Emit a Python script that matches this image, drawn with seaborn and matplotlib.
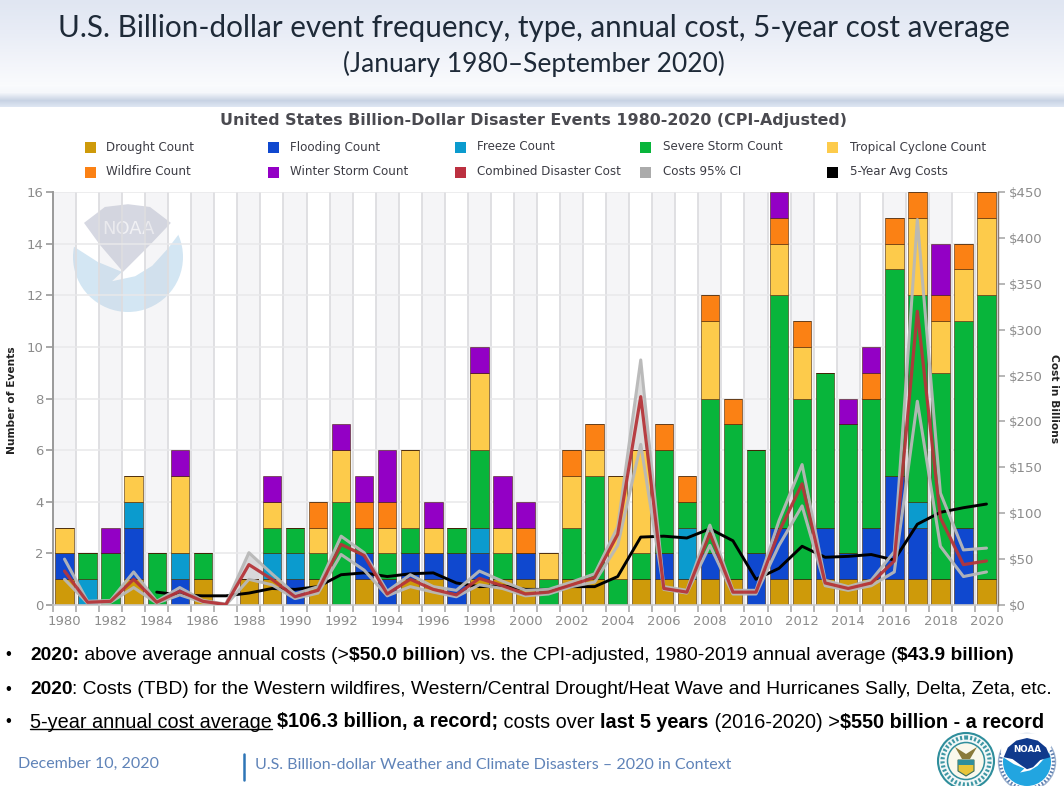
import numpy as np
import pandas as pd
import matplotlib
matplotlib.use("Agg")
import matplotlib.pyplot as plt
from matplotlib.patches import Circle, Polygon, Rectangle
import seaborn as sns

sns.set_theme(style="white")

# ---- data -------------------------------------------------------------
years = list(range(1980, 2021))
drought = [1,0,0,1,0,0,1,0,1,1,0,1,0,1,0,1,1,0,1,1,1,0,1,1,0,1,1,1,1,1,0,1,1,1,1,1,1,1,1,0,1]
flooding = [1,0,0,2,0,1,0,0,0,0,1,0,0,1,1,1,1,2,1,0,1,0,0,0,0,0,1,0,1,0,2,2,0,2,1,2,4,2,0,3,0]
freeze = [0,1,0,1,0,1,0,0,0,1,1,0,0,0,0,0,0,0,1,0,0,0,0,0,0,0,0,2,0,0,0,0,0,0,0,0,0,1,0,0,0]
severe_storm = [0,1,2,0,2,0,1,0,0,1,1,1,4,1,1,1,0,1,3,1,0,1,2,4,1,1,4,1,6,6,4,9,7,6,5,5,8,8,8,8,11]
tropical_cyclone = [1,0,0,1,0,3,0,0,0,1,0,1,2,0,1,3,1,0,3,1,0,1,2,1,4,4,0,0,3,0,0,2,2,0,0,0,1,3,2,2,3]
wildfire = [0,0,0,0,0,0,0,0,0,0,0,1,0,1,1,0,0,0,0,0,1,0,1,1,0,0,1,1,1,1,0,1,1,0,0,1,1,1,1,1,1]
winter_storm = [0,0,1,0,0,1,0,0,0,1,0,0,1,1,2,0,1,0,1,2,1,0,0,0,0,0,0,0,0,0,0,1,0,0,1,1,0,0,2,0,0]

combined_cost = [37,3,4,28,3,15,4,0.5,44,28,9,16,66,54,12,28,17,11,29,21,12,14,22,30,77,227,
                 18,14,78,14,14,80,132,24,18,24,48,320,95,44,48]
ci_upper = [50,4,5,36,4,19,5,1,57,34,12,20,75,57,15,33,20,16,37,26,16,17,25,34,85,267,
            20,16,87,16,16,92,153,27,20,27,58,420,122,60,62]
ci_lower = [28,2,3,19,2,11,3,0,28,22,7,13,55,38,10,20,14,9,22,18,10,12,20,25,65,175,
            17,13,65,12,12,65,108,21,16,21,36,222,64,31,36]
avg_years = list(range(1984, 2021))
avg_cost = [14,11,10,10,13,18,17,20,33,35,31,34,35,24,20,21,17,17,20,20,31,74,75,73,83,70,
            28,40,64,52,53,55,49,88,101,106,110]

count_series = ["Drought Count", "Flooding Count", "Freeze Count", "Severe Storm Count",
                "Tropical Cyclone Count", "Wildfire Count", "Winter Storm Count"]
count_values = [drought, flooding, freeze, severe_storm, tropical_cyclone, wildfire, winter_storm]
count_colors = ["#CE9A0A", "#0F48CF", "#0B9BCE", "#08B53B", "#FDCB4B", "#FB8114", "#9300C5"]

legend_rows = [
    [("Drought Count", "#CE9A0A"), ("Flooding Count", "#0F48CF"), ("Freeze Count", "#0B9BCE"),
     ("Severe Storm Count", "#08B53B"), ("Tropical Cyclone Count", "#FDCB4B")],
    [("Wildfire Count", "#FB8114"), ("Winter Storm Count", "#9300C5"),
     ("Combined Disaster Cost", "#BC3040"), ("Costs 95% CI", "#ABABAB"),
     ("5-Year Avg Costs", "#000000")],
]

bullet_lines = [
    [("2020:", True, False), (" above average annual costs (>", False, False), ("$50.0 billion", True, False),
     (") vs. the CPI-adjusted, 1980-2019 annual average (", False, False), ("$43.9 billion)", True, False)],
    [("2020", True, False), (": Costs (TBD) for the Western wildfires, Western/Central Drought/Heat Wave and Hurricanes Sally, Delta, Zeta, etc.", False, False)],
    [("5-year annual cost average", False, True), (" ", False, False), ("$106.3 billion, a record;", True, False),
     (" costs over ", False, False), ("last 5 years", True, False), (" (2016-2020) >", False, False),
     ("$550 billion - a record", True, False)],
]

W, H = 1064, 786
fig = plt.figure(figsize=(W / 100, H / 100), dpi=100, facecolor="white")


def pixel_axes(zorder):
    a = fig.add_axes([0, 0, 1, 1], zorder=zorder)
    a.set_xlim(0, W)
    a.set_ylim(H, 0)
    a.axis("off")
    a.patch.set_alpha(0)
    return a


WATERMARK_DOME = [(-.8, -.62), (-.42, -.91), (0, -.96), (.4, -.91), (.78, -.62), (.4, -.22), (-.09, .27), (-.51, -.22)]
LOGO_DOME = [(-.97, -.2), (-.8, -.6), (-.45, -.89), (0, -1), (.45, -.89), (.8, -.6), (.97, -.2),
             (.55, -.08), (.25, .22), (0, .3), (-.3, .1), (-.6, -.12)]


def noaa_mark(a, cx, cy, r, sea, dome, dome_shape, letters, fs=10, weight="bold"):
    """Bird-and-sea emblem: a disc, a white wing and the dome carrying the letters."""
    def pts(rel):
        return [(cx + dx * r, cy + dy * r) for dx, dy in rel]
    a.add_patch(Circle((cx, cy), r, fc=sea, ec="none"))
    a.add_patch(Polygon(pts([(-1.08, -.25), (-.55, .09), (-.11, .27), (-.29, .44), (.13, .35), (.44, .16),
                             (.73, -.16), (.95, -.45), (1.15, -1.2), (-1.08, -1.2)]), fc="white", ec="none"))
    a.add_patch(Polygon(pts(dome_shape), fc=dome, ec="none"))
    a.text(cx, cy - .5 * r, "NOAA", color=letters, fontsize=fs, fontweight=weight,
           ha="center", va="center", family="DejaVu Sans")


# ---- page background and watermark -------------------------------------
back = pixel_axes(0)
stops_y = [0, 30, 85, 92, 100, 106, 107, H]
stops_c = np.array([[224, 230, 242], [232, 236, 246], [250, 251, 253], [245, 247, 251],
                    [200, 211, 228], [221, 229, 242], [255, 255, 255], [255, 255, 255]]) / 255
rows = np.arange(H)
grad = np.stack([np.interp(rows, stops_y, stops_c[:, i]) for i in range(3)], axis=1)[:, None, :]
back.imshow(grad, extent=(0, W, H, 0), aspect="auto", zorder=0)
back.set_xlim(0, W)
back.set_ylim(H, 0)
noaa_mark(back, 128, 257, 55, "#D3E6F3", "#D6D8E2", WATERMARK_DOME, "#F1F1F4", fs=13, weight="normal")

# ---- chart axes --------------------------------------------------------
rect = [53 / W, 1 - 605 / H, (998 - 53) / W, (605 - 192) / H]

# the confidence band lies underneath the bars, on its own cost-scaled axes
under = fig.add_axes(rect, zorder=.5)
under.patch.set_alpha(0)
under.axis("off")
under.fill_between(years, ci_lower, ci_upper, color="#A8A8A8", alpha=.4, lw=0)
under.set_xlim(1979.5, 2020.5)
under.set_ylim(0, 450)

ax = fig.add_axes(rect, zorder=1)
ax.patch.set_alpha(0)

counts = pd.DataFrame({
    "year": np.tile(years, len(count_series)),
    "type": np.repeat(count_series, len(years)),
    "count": np.concatenate(count_values),
})

# alternating column bands and the grid sit behind the stacked bars
for y in years[::2]:
    ax.axvspan(y - .5, y + .5, color="#C8C8D2", alpha=.17, lw=0, zorder=0)
for b in np.arange(1979.5, 2021):
    ax.axvline(b, color="#DDDDE0", lw=1.3, zorder=.5)
for c in range(2, 17, 2):
    ax.axhline(c, color="#E8E8EA", lw=1.1, zorder=.5)

sns.histplot(data=counts, x="year", weights="count", hue="type",
             hue_order=count_series[::-1], palette=dict(zip(count_series, count_colors)),
             multiple="stack", discrete=True, shrink=.8, alpha=1, legend=False,
             edgecolor=(.25, .12, 0, .55), linewidth=.7, ax=ax, zorder=2)

ax.set_xlim(1979.5, 2020.5)
ax.set_ylim(0, 16)
ax.set_yticks(range(0, 17, 2))
ax.set_xticks(years[::2])
ax.set_xticks(np.arange(1979.5, 2021), minor=True)
ax.tick_params(axis="x", which="major", length=0, labelsize=9.5, labelcolor="#8C8C8C", pad=7)
ax.tick_params(axis="x", which="minor", length=5, color="#AAAAAA", width=1.2, bottom=True)
ax.tick_params(axis="y", length=5, color="#999999", width=1.2, labelsize=9.5, labelcolor="#8C8C8C", pad=2,
               left=True)
ax.set_xlabel("")
ax.set_ylabel("")
for side in ["top", "right"]:
    ax.spines[side].set_visible(False)
ax.spines["left"].set_color("#9A9A9A")
ax.spines["left"].set_linewidth(1.4)
ax.spines["bottom"].set_color("#C8C8C8")
ax.spines["bottom"].set_linewidth(1.2)

# ---- cost axis and lines -----------------------------------------------
cost = ax.twinx()
cost.set_zorder(2)
cost.patch.set_alpha(0)
sns.lineplot(x=avg_years, y=avg_cost, color="black", lw=2.1, estimator=None, sort=False, ax=cost, zorder=3)
sns.lineplot(x=years, y=ci_upper, color="#B8B8B8", lw=2.2, alpha=.95, estimator=None, sort=False, ax=cost, zorder=5)
sns.lineplot(x=years, y=ci_lower, color="#B8B8B8", lw=2.2, alpha=.95, estimator=None, sort=False, ax=cost, zorder=5)
sns.lineplot(x=years, y=combined_cost, color="#B5353A", lw=2.3, alpha=.95, estimator=None, sort=False, ax=cost, zorder=6)

cost.set_xlim(1979.5, 2020.5)
cost.set_ylim(0, 450)
cost.set_yticks(range(0, 451, 50))
cost.set_yticklabels([f"${v}" for v in range(0, 451, 50)])
cost.tick_params(axis="y", length=5, color="#AAAAAA", width=1.2, labelsize=9.5, labelcolor="#8C8C8C", pad=3,
                 right=True)
cost.set_ylabel("")
for side in ["top", "left", "bottom"]:
    cost.spines[side].set_visible(False)
cost.spines["right"].set_color("#8A7A70")
cost.spines["right"].set_linewidth(1.0)

# ---- page furniture ----------------------------------------------------
page = pixel_axes(3)
head_font = ["Lato", "DejaVu Sans"]
page.text(533.5, 28, "U.S. Billion-dollar event frequency, type, annual cost, 5-year cost average",
          fontsize=21.3, color="#1E2A38", ha="center", va="center", family=head_font)
page.text(533.5, 64, "(January 1980\u2013September 2020)", fontsize=19, color="#1E2A38",
          ha="center", va="center", family=head_font)
page.text(534, 121, "United States Billion-Dollar Disaster Events 1980-2020 (CPI-Adjusted)",
          fontsize=11.45, fontweight="bold", color="#4A4A50", ha="center", va="center", family="DejaVu Sans")

# legend
swatch_x = [84.5, 268, 455, 640, 827]
label_x = [106, 290.5, 477, 663, 849.5]
row_y = [147.5, 172]
for row, y in zip(legend_rows, row_y):
    for (name, colour), sx, lx in zip(row, swatch_x, label_x):
        page.add_patch(Rectangle((sx, y - 5.5), 11, 11, fc=colour, ec="none"))
        page.text(lx, y - .5, name, fontsize=8.55, color="#3C3C44", ha="left", va="center", family="DejaVu Sans")

# axis titles
page.text(12, 400, "Number of Events", rotation=90, fontsize=7.7, fontweight="bold", color="#222222",
          ha="center", va="center", family="DejaVu Sans")
page.text(1054, 399, "Cost in Billions", rotation=270, fontsize=7.7, fontweight="bold", color="#222222",
          ha="center", va="center", family="DejaVu Sans")

# bullet lines, written run by run so bold and regular words share a baseline
renderer = fig.canvas.get_renderer()
for line, y, size in zip(bullet_lines, [653, 688, 720], [13.87, 13.87, 14.33]):
    page.text(5, y, "\u2022", fontsize=12, color="black", ha="left", va="center_baseline", family="Liberation Sans")
    x = 30
    for txt, bold, under_line in line:
        weight = "bold" if bold else "normal"
        page.text(x, y, txt, fontsize=size, fontweight=weight, color="black",
                  ha="left", va="center_baseline", family="Liberation Sans")
        # blanks at either end still count towards where the next run starts
        probe = page.text(0, 0, txt.replace(" ", "\u00a0"), fontsize=size, fontweight=weight,
                          family="Liberation Sans")
        width = probe.get_window_extent(renderer).width
        probe.remove()
        if under_line:
            page.plot([x, x + width], [y + 9, y + 9], color="black", lw=1)
        x += width

# footer
page.text(18, 764, "December 10, 2020", fontsize=11.5, color="#5F83B8", ha="left", va="center", family=head_font)
page.plot([244, 244], [754, 780], color="#2E75B6", lw=1.8)
page.text(255, 765, "U.S. Billion-dollar Weather and Climate Disasters \u2013 2020 in Context", fontsize=11.5,
          color="#5F83B8", ha="left", va="center", family=head_font)

# commerce seal
page.add_patch(Circle((966, 761), 28, fc="#F2F8F8", ec="#2F8E9C", lw=1.5))
page.add_patch(Circle((966, 761), 23.5, fc="none", ec="#3E97A4", lw=3, ls=(0, (.5, .5))))
page.add_patch(Circle((966, 761), 18.5, fc="#FAF8EC", ec="#2F8E9C", lw=1.1))
page.add_patch(Polygon([(958, 760), (974, 760), (974, 771), (966, 776), (958, 771)], fc="#E8C53A", ec="#3C6E5A", lw=.8))
page.add_patch(Polygon([(958, 760), (974, 760), (974, 765), (958, 765)], fc="#2F8E9C", ec="none"))
page.add_patch(Polygon([(955, 747), (966, 754), (977, 747), (970, 759), (962, 759)], fc="#8A7A3A", ec="none"))

# NOAA emblem
page.add_patch(Circle((1027, 762), 28.5, fc="white", ec="#9FB4D0", lw=1))
page.add_patch(Circle((1027, 762), 26.5, fc="none", ec="#5E7FB0", lw=2.4, ls=(0, (.5, .6))))
noaa_mark(page, 1027, 762, 24, "#22A5E0", "#103A8C", LOGO_DOME, "white", fs=6.3)

fig.savefig("out.png", dpi=100)
